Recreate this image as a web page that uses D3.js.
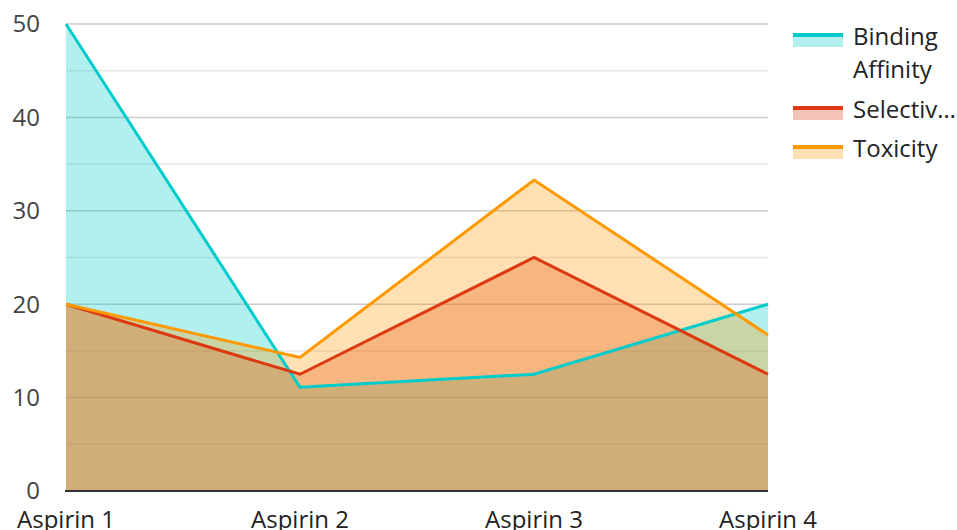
<!DOCTYPE html>
<html>
<head>
<meta charset="utf-8">
<script src="https://cdn.jsdelivr.net/npm/d3@7"></script>
<style>
  body { margin: 0; background: #fff; }
  svg { display: block; font-family: "Open Sans", "Noto Sans", sans-serif; }
</style>
</head>
<body>
<div id="chart"></div>
<script>
// chart data
const categories = ['Aspirin 1', 'Aspirin 2', 'Aspirin 3', 'Aspirin 4'];
const seriesNames = ['Binding Affinity', 'Selectivity', 'Toxicity'];
const bindingAffinity = [50, 11.1, 12.5, 20];
const selectivity = [20, 12.5, 25, 12.5];
const toxicity = [20, 14.3, 33.3, 16.7];
const yTicks = [0, 10, 20, 30, 40, 50];
const colors = ['#00cccc', '#dc3912', '#ff9900'];

const W = 957, H = 530;
const mLeft = 66, mRight = 768, mTop = 24, mBottom = 491;

let svg = d3.select('#chart').append('svg')
    .attr('width', W)
    .attr('height', H);

let x = d3.scalePoint().domain(categories).range([mLeft, mRight]);
let y = d3.scaleLinear().domain([0, 50]).range([mBottom, mTop]);

// grid, minor then major
let minor = d3.range(5, 50, 10);
svg.append('g').selectAll('line').data(minor).enter().append('line')
    .attr('x1', mLeft).attr('x2', mRight)
    .attr('y1', d => y(d)).attr('y2', d => y(d))
    .attr('stroke', '#e6e6e6').attr('stroke-width', 1.5);
svg.append('g').selectAll('line').data(yTicks.slice(1)).enter().append('line')
    .attr('x1', mLeft).attr('x2', mRight)
    .attr('y1', d => y(d)).attr('y2', d => y(d))
    .attr('stroke', '#cccccc').attr('stroke-width', 1.5);

// y labels
svg.append('g').selectAll('text').data(yTicks).enter().append('text')
    .attr('x', 40).attr('y', d => y(d))
    .attr('text-anchor', 'end')
    .attr('dy', '0.35em')
    .attr('font-size', 24)
    .attr('fill', '#444')
    .text(d => d);

// areas + lines
let allSeries = [bindingAffinity, selectivity, toxicity];
let area = d3.area()
    .x((d, i) => x(categories[i]))
    .y0(y(0))
    .y1(d => y(d));
let line = d3.line()
    .x((d, i) => x(categories[i]))
    .y(d => y(d));

svg.append('g').selectAll('path').data(allSeries).enter().append('path')
    .attr('d', area)
    .attr('fill', (d, i) => colors[i])
    .attr('fill-opacity', 0.3);

svg.append('g').selectAll('path').data(allSeries).enter().append('path')
    .attr('d', line)
    .attr('fill', 'none')
    .attr('stroke', (d, i) => colors[i])
    .attr('stroke-width', 3)
    .attr('stroke-linejoin', 'miter');

// baseline
svg.append('line')
    .attr('x1', mLeft - 1).attr('x2', mRight)
    .attr('y1', y(0)).attr('y2', y(0))
    .attr('stroke', '#333').attr('stroke-width', 2);

// x labels (cut at the bottom edge, as in the original)
svg.append('g').selectAll('text').data(categories).enter().append('text')
    .attr('x', d => x(d)).attr('y', 528)
    .attr('text-anchor', 'middle')
    .attr('font-size', 24)
    .attr('fill', '#222')
    .text(d => d);

// legend
let legendRows = [
    {lines: ['Binding', 'Affinity'], y: 35},
    {lines: ['Selectiv\u2026'], y: 108},
    {lines: ['Toxicity'], y: 147}
];
let lg = svg.append('g').selectAll('g').data(legendRows).enter().append('g')
    .attr('transform', d => `translate(793,${d.y})`);
lg.append('rect')
    .attr('x', 0).attr('y', 0).attr('width', 50).attr('height', 12)
    .attr('fill', (d, i) => colors[i]).attr('fill-opacity', 0.3);
lg.append('line')
    .attr('x1', 0).attr('x2', 50).attr('y1', 0).attr('y2', 0)
    .attr('stroke', (d, i) => colors[i]).attr('stroke-width', 4);
lg.append('text')
    .attr('x', 60).attr('y', 10)
    .attr('font-size', 24)
    .attr('fill', '#222')
    .selectAll('tspan').data(d => d.lines).enter().append('tspan')
    .attr('x', 60)
    .attr('dy', (d, i) => i ? 33 : 0)
    .text(d => d);
</script>
</body>
</html>
